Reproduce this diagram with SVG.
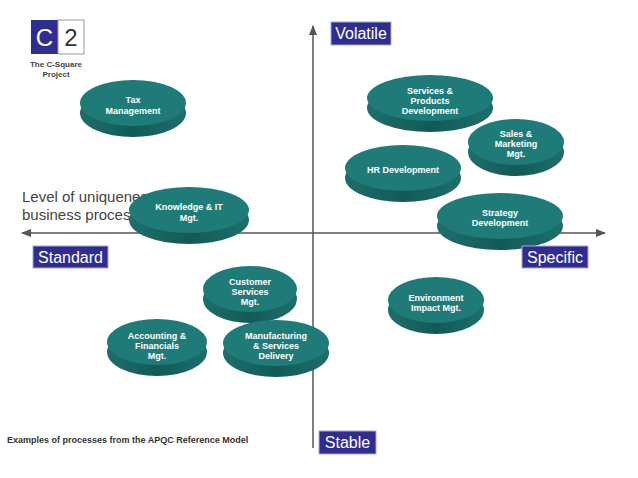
<svg xmlns="http://www.w3.org/2000/svg" width="638" height="478" viewBox="0 0 638 478">
<style>
.lbl{font-family:"Liberation Sans",Arial,sans-serif;font-weight:bold;font-size:9px;fill:#fff;text-anchor:middle}
.box{fill:#2f2d91;stroke:#a9a9c9;stroke-width:1}
.bt{font-family:"Liberation Sans",Arial,sans-serif;font-size:16px;fill:#fff;text-anchor:middle}
.top{fill:#1f7b78}
.side{fill:#17625f}
.ax{stroke:#555;stroke-width:1.5;fill:none}
</style>
<defs>
<marker id="ah" viewBox="0 0 10 10" refX="9" refY="5" markerWidth="7" markerHeight="7" orient="auto-start-reverse"><path d="M0,1 L10,5 L0,9 z" fill="#555"/></marker>
<linearGradient id="sg" x1="0" y1="0" x2="1" y2="0"><stop offset="0" stop-color="#1d6f6c"/><stop offset="0.5" stop-color="#125a57"/><stop offset="1" stop-color="#1d6f6c"/></linearGradient>
</defs>
<rect width="638" height="478" fill="#fff"/>
<g id="logo">
<rect x="31" y="20" width="27" height="34" fill="#2f2d91"/>
<rect x="58" y="20" width="26" height="34" fill="#fff" stroke="#999"/>
<text x="44.5" y="46" font-family="Liberation Sans,Arial,sans-serif" font-size="24" fill="#fff" text-anchor="middle">C</text>
<text x="71" y="46" font-family="Liberation Sans,Arial,sans-serif" font-size="24" fill="#333" text-anchor="middle">2</text>
<text x="56" y="67" font-family="Liberation Sans,Arial,sans-serif" font-size="8" font-weight="bold" fill="#444" text-anchor="middle">The C-Square</text>
<text x="56" y="77" font-family="Liberation Sans,Arial,sans-serif" font-size="8" font-weight="bold" fill="#444" text-anchor="middle">Project</text>
</g>
<text x="22" y="202" font-family="Liberation Sans,Arial,sans-serif" font-size="15" fill="#444">Level of uniqueness</text>
<text x="22" y="220" font-family="Liberation Sans,Arial,sans-serif" font-size="15" fill="#444">business processes</text>
<g id="connectors">
<line class="ax" x1="313" y1="448" x2="313" y2="26" marker-end="url(#ah)"/>
<line class="ax" x1="22" y1="233" x2="605" y2="233" marker-start="url(#ah)" marker-end="url(#ah)"/>
</g>
<g id="tax"><ellipse cx="133" cy="113" rx="53" ry="24" fill="url(#sg)"/><ellipse class="top" cx="133" cy="103" rx="53" ry="23"/><text class="lbl" x="133" y="103">Tax</text><text class="lbl" x="133" y="114">Management</text></g>
<g id="know"><ellipse cx="189" cy="220" rx="60" ry="24" fill="url(#sg)"/><ellipse class="top" cx="189" cy="210" rx="60" ry="23"/><text class="lbl" x="189" y="210">Knowledge &amp; IT</text><text class="lbl" x="189" y="221">Mgt.</text></g>
<g id="serv"><ellipse cx="430" cy="108" rx="63" ry="24" fill="url(#sg)"/><ellipse class="top" cx="430" cy="98" rx="63" ry="23"/><text class="lbl" x="430" y="94">Services &amp;</text><text class="lbl" x="430" y="104">Products</text><text class="lbl" x="430" y="114">Development</text></g>
<g id="sales"><ellipse cx="516" cy="152" rx="48" ry="24" fill="url(#sg)"/><ellipse class="top" cx="516" cy="142" rx="48" ry="23"/><text class="lbl" x="516" y="137">Sales &amp;</text><text class="lbl" x="516" y="147">Marketing</text><text class="lbl" x="516" y="157">Mgt.</text></g>
<g id="hr"><ellipse cx="403" cy="178" rx="58" ry="24" fill="url(#sg)"/><ellipse class="top" cx="403" cy="168" rx="58" ry="23"/><text class="lbl" x="403" y="173">HR Development</text></g>
<g id="strat"><ellipse cx="500" cy="226" rx="63" ry="24" fill="url(#sg)"/><ellipse class="top" cx="500" cy="216" rx="63" ry="23"/><text class="lbl" x="500" y="216">Strategy</text><text class="lbl" x="500" y="226">Development</text></g>
<g id="env"><ellipse cx="436" cy="310" rx="48" ry="24" fill="url(#sg)"/><ellipse class="top" cx="436" cy="300" rx="48" ry="23"/><text class="lbl" x="436" y="301">Environment</text><text class="lbl" x="436" y="311">Impact Mgt.</text></g>
<g id="cust"><ellipse cx="250" cy="299" rx="47" ry="24" fill="url(#sg)"/><ellipse class="top" cx="250" cy="289" rx="47" ry="23"/><text class="lbl" x="250" y="285">Customer</text><text class="lbl" x="250" y="295">Services</text><text class="lbl" x="250" y="305">Mgt.</text></g>
<g id="acct"><ellipse cx="157" cy="352" rx="50" ry="24" fill="url(#sg)"/><ellipse class="top" cx="157" cy="342" rx="50" ry="23"/><text class="lbl" x="157" y="339">Accounting &amp;</text><text class="lbl" x="157" y="349">Financials</text><text class="lbl" x="157" y="359">Mgt.</text></g>
<g id="manu"><ellipse cx="276" cy="353" rx="53" ry="24" fill="url(#sg)"/><ellipse class="top" cx="276" cy="343" rx="53" ry="23"/><text class="lbl" x="276" y="339">Manufacturing</text><text class="lbl" x="276" y="349">&amp; Services</text><text class="lbl" x="276" y="359">Delivery</text></g>
<g id="volatile"><rect class="box" x="331" y="22" width="60" height="23"/><text class="bt" x="361" y="39">Volatile</text></g>
<g id="standard"><rect class="box" x="33" y="246" width="75" height="22"/><text class="bt" x="70.5" y="263">Standard</text></g>
<g id="specific"><rect class="box" x="522" y="246" width="66" height="22"/><text class="bt" x="555" y="263">Specific</text></g>
<g id="stable"><rect class="box" x="319" y="431" width="57" height="23"/><text class="bt" x="347.5" y="448">Stable</text></g>
<text x="7" y="443" font-family="Liberation Sans,Arial,sans-serif" font-size="9" font-weight="bold" fill="#333">Examples of processes from the APQC Reference Model</text>
</svg>
